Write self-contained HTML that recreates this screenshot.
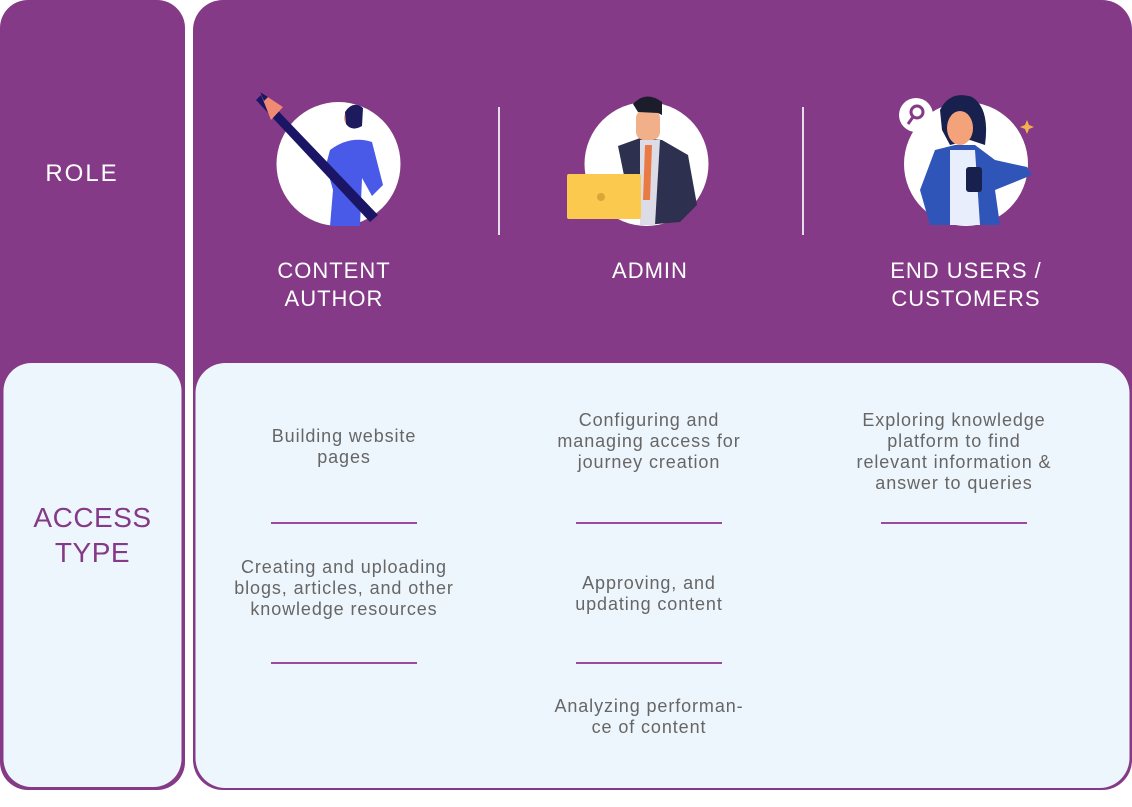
<!DOCTYPE html>
<html><head><meta charset="utf-8"><style>
html,body{margin:0;padding:0;background:#fff;}
body{width:1132px;height:807px;position:relative;overflow:hidden;font-family:"Liberation Sans",sans-serif;}
.t{position:absolute;text-align:center;color:#666;font-size:18px;line-height:21px;letter-spacing:0.9px;}
.r{position:absolute;text-align:center;color:#fff;font-size:22px;line-height:28px;letter-spacing:1px;}
</style></head><body>
<svg width="1132" height="807" style="position:absolute;left:0;top:0">
<rect x="0" y="0" width="185" height="790" rx="28" fill="#843a86"/>
<rect x="3.5" y="363" width="178" height="424" rx="28" fill="#eef6fd"/>
<rect x="193" y="0" width="939" height="790" rx="30" fill="#843a86"/>
<rect x="195.5" y="363" width="934" height="425" rx="30" fill="#eef6fd"/>
<line x1="499" y1="107" x2="499" y2="235" stroke="#e9dcea" stroke-width="2"/>
<line x1="803" y1="107" x2="803" y2="235" stroke="#e9dcea" stroke-width="2"/>
<g stroke="#9b4b9e" stroke-width="2">
<line x1="271" y1="523" x2="417" y2="523"/><line x1="271" y1="663" x2="417" y2="663"/>
<line x1="576" y1="523" x2="722" y2="523"/><line x1="576" y1="663" x2="722" y2="663"/>
<line x1="881" y1="523" x2="1027" y2="523"/>
</g>
<!-- author -->
<circle cx="338.5" cy="164" r="62" fill="#fff"/>
<path d="M330 150 Q350 135 372 142 L383 185 L372 196 L362 178 L360 226 L330 226 L333 190 L326 165 Z" fill="#4a5ae8"/>
<circle cx="353" cy="118" r="9" fill="#f2a48a"/>
<path d="M345 112 Q353 100 363 108 L362 126 Q352 132 346 124 Z" fill="#1d1b5e"/>
<path d="M262 94 L378 215 L370 222 L256 100 Z" fill="#1a1565"/>
<path d="M260 92 L283 107 L271 120 Z" fill="#f08a72"/>
<path d="M260 92 L268 97 L264 101 Z" fill="#1a1565"/>
<!-- admin -->
<circle cx="646.5" cy="164" r="62" fill="#fff"/>
<path d="M618 146 L640 138 L662 140 L688 155 L697 205 L680 222 L645 225 L628 195 Z" fill="#2e3050"/>
<path d="M640 140 L660 140 L655 225 L640 225 Z" fill="#dcdce6"/>
<path d="M645 145 L652 145 L650 200 L643 200 Z" fill="#ea7a44"/>
<rect x="636" y="110" width="24" height="30" rx="8" fill="#f2b08a"/>
<path d="M633 104 Q646 90 662 102 L662 115 L658 113 L638 112 Z" fill="#1c1d2b"/>
<rect x="567" y="174" width="74" height="45" rx="2" fill="#fbc94d"/>
<circle cx="601" cy="197" r="4" fill="#d9a63a"/>
<!-- end user -->
<circle cx="966" cy="164" r="62" fill="#fff"/>
<circle cx="916" cy="115" r="17" fill="#fff"/>
<circle cx="917" cy="112" r="6" fill="none" stroke="#843a86" stroke-width="3"/>
<line x1="913" y1="117" x2="908" y2="124" stroke="#843a86" stroke-width="3"/>
<path d="M935 150 L955 145 L975 145 L995 160 L1027 167 L1032 175 L995 190 L1000 225 L930 225 L920 190 Z" fill="#2f55b8"/>
<path d="M950 150 L975 150 L980 225 L950 225 Z" fill="#e8eefb"/>
<path d="M940 110 Q950 90 972 97 Q990 108 985 145 L970 140 L950 145 L942 130 Z" fill="#18204d"/>
<ellipse cx="960" cy="128" rx="13" ry="17" fill="#f4a27a"/>
<rect x="966" y="167" width="16" height="25" rx="3" fill="#18204d"/>
<path d="M1027 120 L1029 125 L1034 127 L1029 129 L1027 134 L1025 129 L1020 127 L1025 125 Z" fill="#f4b24d"/>
</svg>
<div class="r" style="left:0;width:164px;top:160px;font-size:24px;letter-spacing:2px;">ROLE</div>
<div class="r" style="left:0;width:185px;top:500px;color:#843a86;font-size:28px;line-height:35px;letter-spacing:0.5px;">ACCESS<br>TYPE</div>
<div class="r" style="left:234px;width:200px;top:257px;">CONTENT<br>AUTHOR</div>
<div class="r" style="left:550px;width:200px;top:257px;">ADMIN</div>
<div class="r" style="left:866px;width:200px;top:257px;">END USERS /<br>CUSTOMERS</div>
<div class="t" style="left:204px;width:280px;top:426px;">Building website<br>pages</div>
<div class="t" style="left:194px;width:300px;top:557px;">Creating and uploading<br>blogs, articles, and other<br>knowledge resources</div>
<div class="t" style="left:499px;width:300px;top:410px;">Configuring and<br>managing access for<br>journey creation</div>
<div class="t" style="left:499px;width:300px;top:573px;">Approving, and<br>updating content</div>
<div class="t" style="left:499px;width:300px;top:696px;">Analyzing performan-<br>ce of content</div>
<div class="t" style="left:804px;width:300px;top:410px;">Exploring knowledge<br>platform to find<br>relevant information &amp;<br>answer to queries</div>
</body></html>
